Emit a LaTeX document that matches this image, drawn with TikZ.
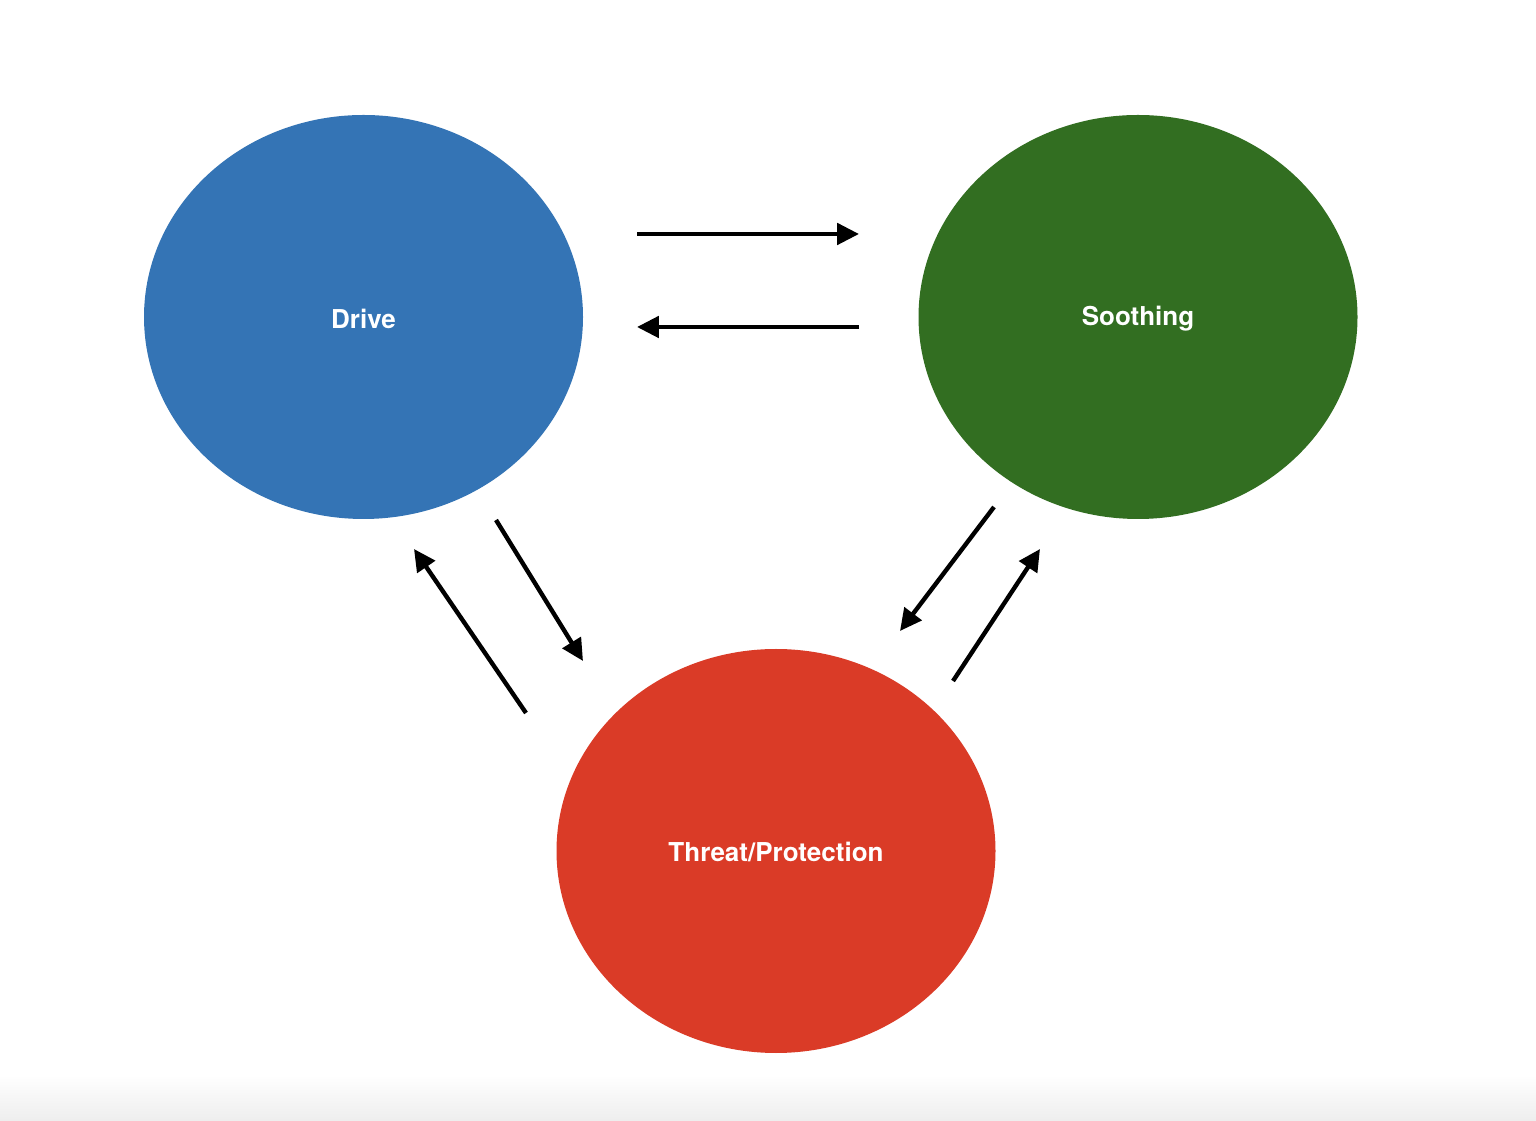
\documentclass[tikz,border=0pt]{standalone}
\usepackage{fontspec}
\setmainfont{TeX Gyre Heros}
\usetikzlibrary{shapes.geometric,arrows.meta}
\definecolor{driveblue}{RGB}{52,116,181}
\definecolor{soothgreen}{RGB}{50,110,33}
\definecolor{threatred}{RGB}{218,59,39}
\definecolor{bottomgray}{RGB}{238,238,238}
\tikzset{
  blob/.style={ellipse, minimum width=4.39cm, minimum height=4.04cm, inner sep=0pt},
  blobtext/.style={text=white, font=\fontsize{7.4}{8}\selectfont\bfseries},
  conn/.style={line width=1.25pt, -{Triangle[length=6.2pt,width=6pt]}}
}
\begin{document}
\begin{tikzpicture}
\useasboundingbox (0,0) rectangle (15.36,11.2);
\fill[white] (0,0) rectangle (15.36,11.2);
\shade[top color=white, bottom color=bottomgray] (0,0) rectangle (15.36,0.45);
\node[blob, fill=driveblue] (drive) at (3.635,8.03) {};
\node[blob, fill=soothgreen] (sooth) at (11.38,8.03) {};
\node[blob, fill=threatred] (threat) at (7.76,2.69) {};
\node[blobtext] (drivelbl) at ([yshift=-0.015cm]drive.center) {Drive};
\node[blobtext] (soothlbl) at ([yshift=-0.02cm]sooth.center) {Soothing};
\node[blobtext] (threatlbl) at ([yshift=-0.01cm]threat.center) {Threat/Protection};
\coordinate (a1s) at (6.37,8.86);
\coordinate (a1e) at (8.59,8.86);
\coordinate (a2s) at (8.59,7.93);
\coordinate (a2e) at (6.37,7.93);
\coordinate (a3s) at (4.96,6.00);
\coordinate (a3e) at (5.83,4.59);
\coordinate (a4s) at (5.26,4.07);
\coordinate (a4e) at (4.14,5.71);
\coordinate (a5s) at (9.94,6.13);
\coordinate (a5e) at (9.00,4.89);
\coordinate (a6s) at (9.53,4.39);
\coordinate (a6e) at (10.40,5.71);
\draw[conn] (a1s) -- (a1e);
\draw[conn] (a2s) -- (a2e);
\draw[conn] (a3s) -- (a3e);
\draw[conn] (a4s) -- (a4e);
\draw[conn] (a5s) -- (a5e);
\draw[conn] (a6s) -- (a6e);
\end{tikzpicture}
\end{document}
